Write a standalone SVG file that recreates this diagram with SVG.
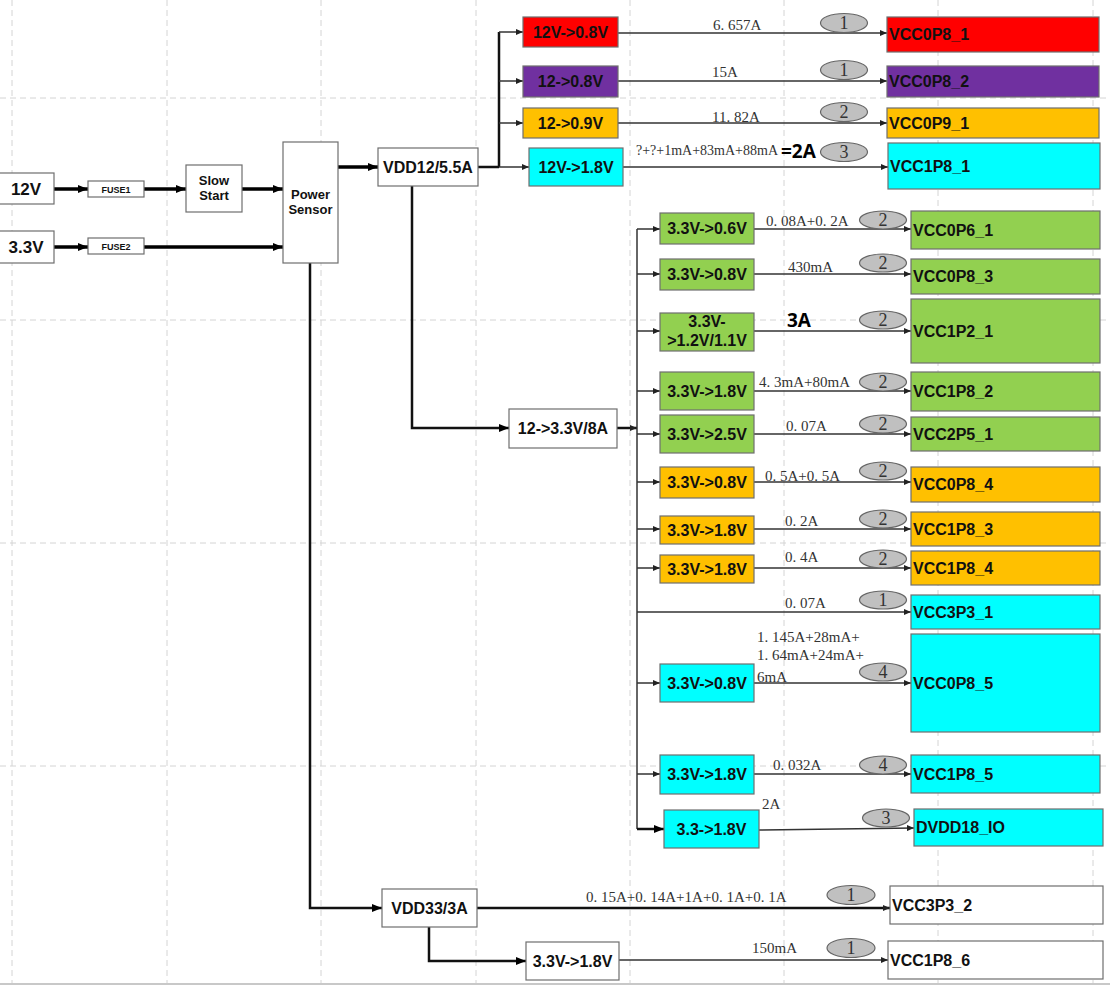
<svg xmlns="http://www.w3.org/2000/svg" width="1110" height="989" viewBox="0 0 1110 989">
<style>
.grid{stroke:#d4d4d4;stroke-width:1;stroke-dasharray:6 4;fill:none}
.box{stroke:#6e6e6e;stroke-width:1.2}
.w{fill:#fff}
.red{fill:#ff0000}
.pur{fill:#7030a0}
.org{fill:#ffc000}
.cyn{fill:#00ffff}
.grn{fill:#92d050}
.t{font-family:"Liberation Sans",Arial,sans-serif;font-weight:bold;fill:#111}
.c{text-anchor:middle}
.f16{font-size:16px}
.f13{font-size:13px}
.lab{font-family:"Liberation Serif","Times New Roman",serif;font-size:15px;fill:#333}
.lab.sm{font-size:14px}
.big{font-family:"Open Sans","Liberation Sans",sans-serif;font-weight:bold;font-size:19px;fill:#000}
.thick{stroke:#000;stroke-width:3.5;fill:none}
.med{stroke:#111;stroke-width:2.5;fill:none}
.thin{stroke:#333;stroke-width:1.5;fill:none}
.badge{fill:#c0c0c0;stroke:#666;stroke-width:1.2}
.num{font-family:"Liberation Serif","Times New Roman",serif;font-size:18px;fill:#333;text-anchor:middle}
</style>
<defs>
<marker id="ah" viewBox="0 0 10 8" refX="10" refY="4" markerWidth="10" markerHeight="8" markerUnits="userSpaceOnUse" orient="auto"><path d="M0,0 L10,4 L0,8 z" fill="#000"/></marker>
<marker id="as" viewBox="0 0 7 6" refX="7" refY="3" markerWidth="7" markerHeight="6" markerUnits="userSpaceOnUse" orient="auto"><path d="M0,0 L7,3 L0,6 z" fill="#222"/></marker>
</defs>
<rect x="0" y="0" width="1110" height="989" fill="#fff"/>
<g id="grid">
<path class="grid" d="M12,0V983M167,0V983M321,0V983M476,0V983M630,0V983M784,0V983M938,0V983M1093,0V983"/>
<path class="grid" d="M0,98H1110M0,320H1110M0,543H1110M0,766H1110"/>
<path d="M0,984H1110" stroke="#c8c8c8" stroke-width="2"/>
</g>
<g id="connectors">
<path class="thick" marker-end="url(#ah)" d="M54,189H88"/>
<path class="thick" marker-end="url(#ah)" d="M144,189H186"/>
<path class="thick" marker-end="url(#ah)" d="M242,189H283"/>
<path class="thick" marker-end="url(#ah)" d="M54,247H88"/>
<path class="thick" marker-end="url(#ah)" d="M144,247H283"/>
<path class="thick" marker-end="url(#ah)" d="M338,167H378"/>
<path class="med" marker-end="url(#ah)" d="M412,186V428H509"/>
<path class="med" marker-end="url(#ah)" d="M310,263V908H382"/>
<path class="med" d="M478,167H499M499,32V167"/>
<path class="thin" stroke-width="2" marker-end="url(#as)" d="M499,32H523"/>
<path class="thin" stroke-width="2" marker-end="url(#as)" d="M499,81H523"/>
<path class="thin" stroke-width="2" marker-end="url(#as)" d="M499,123H523"/>
<path class="thin" stroke-width="2" marker-end="url(#as)" d="M499,167H529"/>
<path class="thin" marker-end="url(#as)" d="M618,33H887"/>
<path class="thin" marker-end="url(#as)" d="M618,81H887"/>
<path class="thin" marker-end="url(#as)" d="M618,123H887"/>
<path class="thin" marker-end="url(#as)" d="M623,167H888"/>
<path class="med" marker-end="url(#as)" d="M617,428H637"/>
<path class="thin" stroke-width="2" d="M637,229V829"/>
<path class="thin" marker-end="url(#as)" d="M637,229H660"/>
<path class="thin" marker-end="url(#as)" d="M637,274H660"/>
<path class="thin" marker-end="url(#as)" d="M637,331H660"/>
<path class="thin" marker-end="url(#as)" d="M637,391H660"/>
<path class="thin" marker-end="url(#as)" d="M637,434H660"/>
<path class="thin" marker-end="url(#as)" d="M637,482H660"/>
<path class="thin" marker-end="url(#as)" d="M637,529H660"/>
<path class="thin" marker-end="url(#as)" d="M637,568H660"/>
<path class="thin" marker-end="url(#as)" d="M637,612H911"/>
<path class="thin" marker-end="url(#as)" d="M637,683H660"/>
<path class="thin" marker-end="url(#as)" d="M637,774H660"/>
<path class="med" marker-end="url(#ah)" d="M637,829H664"/>
<path class="thin" marker-end="url(#as)" d="M754,229H911"/>
<path class="thin" marker-end="url(#as)" d="M754,274H911"/>
<path class="thin" marker-end="url(#as)" d="M754,331H911"/>
<path class="thin" marker-end="url(#as)" d="M754,391H911"/>
<path class="thin" marker-end="url(#as)" d="M754,434H911"/>
<path class="thin" marker-end="url(#as)" d="M754,482H911"/>
<path class="thin" marker-end="url(#as)" d="M754,529H911"/>
<path class="thin" marker-end="url(#as)" d="M754,568H911"/>
<path class="thin" marker-end="url(#as)" d="M754,683H911"/>
<path class="thin" marker-end="url(#as)" d="M754,774H911"/>
<path class="thin" marker-end="url(#as)" d="M759,830L914,828"/>
<path class="med" stroke-width="3" marker-end="url(#as)" d="M477,908H890"/>
<path class="med" marker-end="url(#ah)" d="M429,927V961H526"/>
<path class="thin" marker-end="url(#as)" d="M619,960H888"/>
</g>
<g id="n12v"><rect class="box w" x="-2" y="173" width="56" height="31"/><text class="t c" x="26" y="195" font-size="17">12V</text></g>
<g id="n33v"><rect class="box w" x="-2" y="231" width="56" height="32"/><text class="t c" x="26" y="253" font-size="17">3.3V</text></g>
<g id="fuse1"><rect class="box w" x="88" y="181" width="56" height="16"/><text class="t c" x="116" y="193" font-size="9" fill="#444">FUSE1</text></g>
<g id="fuse2"><rect class="box w" x="88" y="238" width="56" height="16"/><text class="t c" x="116" y="250" font-size="9" fill="#444">FUSE2</text></g>
<g id="slowstart"><rect class="box w" x="186" y="165" width="56" height="47"/><text class="t c f13" x="214" y="185">Slow</text><text class="t c f13" x="214" y="200">Start</text></g>
<g id="powersensor"><rect class="box w" x="283" y="142" width="55" height="121"/><text class="t c f13" x="310.5" y="199">Power</text><text class="t c f13" x="310.5" y="214">Sensor</text></g>
<g id="vdd12"><rect class="box w" x="378" y="148" width="100" height="38"/><text class="t c f16" x="428" y="173">VDD12/5.5A</text></g>
<g id="c12to33"><rect class="box w" x="509" y="409" width="108" height="39"/><text class="t c f16" x="563" y="434">12-&gt;3.3V/8A</text></g>
<g id="vdd33"><rect class="box w" x="382" y="889" width="95" height="38"/><text class="t c f16" x="429.5" y="914">VDD33/3A</text></g>

<g id="cv1"><rect class="box red" x="523" y="17" width="95" height="30"/><text class="t c f16" x="570.5" y="38">12V-&gt;0.8V</text></g>
<g id="cv2"><rect class="box pur" x="523" y="66" width="95" height="31"/><text class="t c f16" x="570.5" y="87">12-&gt;0.8V</text></g>
<g id="cv3"><rect class="box org" x="523" y="108" width="95" height="30"/><text class="t c f16" x="570.5" y="129">12-&gt;0.9V</text></g>
<g id="cv4"><rect class="box cyn" x="529" y="148" width="94" height="38"/><text class="t c f16" x="576" y="173">12V-&gt;1.8V</text></g>

<g id="vcc0p8_1"><rect class="box red" x="887" y="17" width="212" height="35"/><text class="t f16" x="889" y="40">VCC0P8_1</text></g>
<g id="vcc0p8_2"><rect class="box pur" x="887" y="66" width="212" height="31"/><text class="t f16" x="889" y="87">VCC0P8_2</text></g>
<g id="vcc0p9_1"><rect class="box org" x="887" y="108" width="212" height="30"/><text class="t f16" x="889" y="129">VCC0P9_1</text></g>
<g id="vcc1p8_1"><rect class="box cyn" x="888" y="143" width="212" height="46"/><text class="t f16" x="890" y="172">VCC1P8_1</text></g>

<g id="cv5"><rect class="box grn" x="660" y="213" width="94" height="31"/><text class="t c f16" x="707" y="234">3.3V-&gt;0.6V</text></g>
<g id="cv6"><rect class="box grn" x="660" y="259" width="94" height="31"/><text class="t c f16" x="707" y="280">3.3V-&gt;0.8V</text></g>
<g id="cv7"><rect class="box grn" x="660" y="313" width="94" height="38"/><text class="t c f16" x="707" y="327">3.3V-</text><text class="t c f16" x="707" y="346">&gt;1.2V/1.1V</text></g>
<g id="cv8"><rect class="box grn" x="660" y="372" width="94" height="38"/><text class="t c f16" x="707" y="397">3.3V-&gt;1.8V</text></g>
<g id="cv9"><rect class="box grn" x="660" y="415" width="94" height="38"/><text class="t c f16" x="707" y="440">3.3V-&gt;2.5V</text></g>
<g id="cv10"><rect class="box org" x="660" y="467" width="94" height="31"/><text class="t c f16" x="707" y="488">3.3V-&gt;0.8V</text></g>
<g id="cv11"><rect class="box org" x="660" y="516" width="94" height="28"/><text class="t c f16" x="707" y="536">3.3V-&gt;1.8V</text></g>
<g id="cv12"><rect class="box org" x="660" y="555" width="94" height="28"/><text class="t c f16" x="707" y="575">3.3V-&gt;1.8V</text></g>
<g id="cv13"><rect class="box cyn" x="660" y="664" width="94" height="38"/><text class="t c f16" x="707" y="689">3.3V-&gt;0.8V</text></g>
<g id="cv14"><rect class="box cyn" x="660" y="755" width="94" height="39"/><text class="t c f16" x="707" y="780">3.3V-&gt;1.8V</text></g>
<g id="cv15"><rect class="box cyn" x="664" y="810" width="95" height="38"/><text class="t c f16" x="711.5" y="835">3.3-&gt;1.8V</text></g>

<g id="vcc0p6_1"><rect class="box grn" x="911" y="211" width="189" height="38"/><text class="t f16" x="913" y="236">VCC0P6_1</text></g>
<g id="vcc0p8_3"><rect class="box grn" x="911" y="259" width="189" height="35"/><text class="t f16" x="913" y="282">VCC0P8_3</text></g>
<g id="vcc1p2_1"><rect class="box grn" x="911" y="299" width="189" height="64"/><text class="t f16" x="913" y="337">VCC1P2_1</text></g>
<g id="vcc1p8_2"><rect class="box grn" x="911" y="372" width="189" height="39"/><text class="t f16" x="913" y="397">VCC1P8_2</text></g>
<g id="vcc2p5_1"><rect class="box grn" x="911" y="417" width="189" height="34"/><text class="t f16" x="913" y="440">VCC2P5_1</text></g>
<g id="vcc0p8_4"><rect class="box org" x="911" y="467" width="189" height="35"/><text class="t f16" x="913" y="490">VCC0P8_4</text></g>
<g id="vcc1p8_3"><rect class="box org" x="911" y="512" width="189" height="34"/><text class="t f16" x="913" y="535">VCC1P8_3</text></g>
<g id="vcc1p8_4"><rect class="box org" x="911" y="551" width="189" height="34"/><text class="t f16" x="913" y="574">VCC1P8_4</text></g>
<g id="vcc3p3_1"><rect class="box cyn" x="911" y="595" width="189" height="34"/><text class="t f16" x="913" y="618">VCC3P3_1</text></g>
<g id="vcc0p8_5"><rect class="box cyn" x="911" y="634" width="189" height="98"/><text class="t f16" x="913" y="689">VCC0P8_5</text></g>
<g id="vcc1p8_5"><rect class="box cyn" x="911" y="755" width="189" height="38"/><text class="t f16" x="913" y="780">VCC1P8_5</text></g>
<g id="dvdd18_io"><rect class="box cyn" x="914" y="809" width="189" height="37"/><text class="t f16" x="916" y="833">DVDD18_IO</text></g>

<g id="cv16"><rect class="box w" x="526" y="942" width="93" height="38"/><text class="t c f16" x="572.5" y="967">3.3V-&gt;1.8V</text></g>
<g id="vcc3p3_2"><rect class="box w" x="890" y="886" width="213" height="38"/><text class="t f16" x="892" y="911">VCC3P3_2</text></g>
<g id="vcc1p8_6"><rect class="box w" x="888" y="941" width="215" height="38"/><text class="t f16" x="890" y="966">VCC1P8_6</text></g>

<g id="badges">
<ellipse class="badge" cx="844" cy="23" rx="23.5" ry="9.5"/><text class="num" x="844" y="29">1</text>
<ellipse class="badge" cx="844" cy="70" rx="23.5" ry="9.5"/><text class="num" x="844" y="76">1</text>
<ellipse class="badge" cx="844" cy="112" rx="23.5" ry="9.5"/><text class="num" x="844" y="118">2</text>
<ellipse class="badge" cx="844" cy="152" rx="23.5" ry="9.5"/><text class="num" x="844" y="158">3</text>
<ellipse class="badge" cx="883" cy="220" rx="23.5" ry="9"/><text class="num" x="883" y="226">2</text>
<ellipse class="badge" cx="883" cy="263" rx="23.5" ry="9"/><text class="num" x="883" y="269">2</text>
<ellipse class="badge" cx="883" cy="320" rx="23.5" ry="9"/><text class="num" x="883" y="326">2</text>
<ellipse class="badge" cx="883" cy="382" rx="23.5" ry="9"/><text class="num" x="883" y="388">2</text>
<ellipse class="badge" cx="883" cy="424" rx="23.5" ry="9"/><text class="num" x="883" y="430">2</text>
<ellipse class="badge" cx="883" cy="471" rx="23.5" ry="9"/><text class="num" x="883" y="477">2</text>
<ellipse class="badge" cx="883" cy="519" rx="23.5" ry="9"/><text class="num" x="883" y="525">2</text>
<ellipse class="badge" cx="883" cy="559" rx="23.5" ry="9"/><text class="num" x="883" y="565">2</text>
<ellipse class="badge" cx="883" cy="600" rx="23.5" ry="9"/><text class="num" x="883" y="606">1</text>
<ellipse class="badge" cx="883" cy="672" rx="23.5" ry="9"/><text class="num" x="883" y="678">4</text>
<ellipse class="badge" cx="883" cy="765" rx="23.5" ry="9"/><text class="num" x="883" y="771">4</text>
<ellipse class="badge" cx="886" cy="818" rx="23.5" ry="9"/><text class="num" x="886" y="824">3</text>
<ellipse class="badge" cx="851" cy="895" rx="24" ry="9.5"/><text class="num" x="851" y="901">1</text>
<ellipse class="badge" cx="851" cy="948" rx="24" ry="9.5"/><text class="num" x="851" y="954">1</text>
</g>
<g id="labels">
<text class="lab" x="713" y="30">6. 657A</text>
<text class="lab" x="712" y="77">15A</text>
<text class="lab" x="712" y="122">11. 82A</text>
<text class="lab sm" x="636" y="155">?+?+1mA+83mA+88mA</text>
<text class="big" x="781" y="158">=2A</text>
<text class="lab" x="766" y="226">0. 08A+0. 2A</text>
<text class="lab" x="788" y="272">430mA</text>
<text class="big" x="787" y="327">3A</text>
<text class="lab" x="759" y="387">4. 3mA+80mA</text>
<text class="lab" x="786" y="431">0. 07A</text>
<text class="lab" x="765" y="481">0. 5A+0. 5A</text>
<text class="lab" x="785" y="526">0. 2A</text>
<text class="lab" x="785" y="562">0. 4A</text>
<text class="lab" x="785" y="608">0. 07A</text>
<text class="lab" x="757" y="642">1. 145A+28mA+</text>
<text class="lab" x="757" y="660">1. 64mA+24mA+</text>
<text class="lab" x="757" y="682">6mA</text>
<text class="lab" x="773" y="770">0. 032A</text>
<text class="lab" x="762" y="809">2A</text>
<text class="lab" x="586" y="902">0. 15A+0. 14A+1A+0. 1A+0. 1A</text>
<text class="lab" x="752" y="953">150mA</text>
</g>
</svg>
